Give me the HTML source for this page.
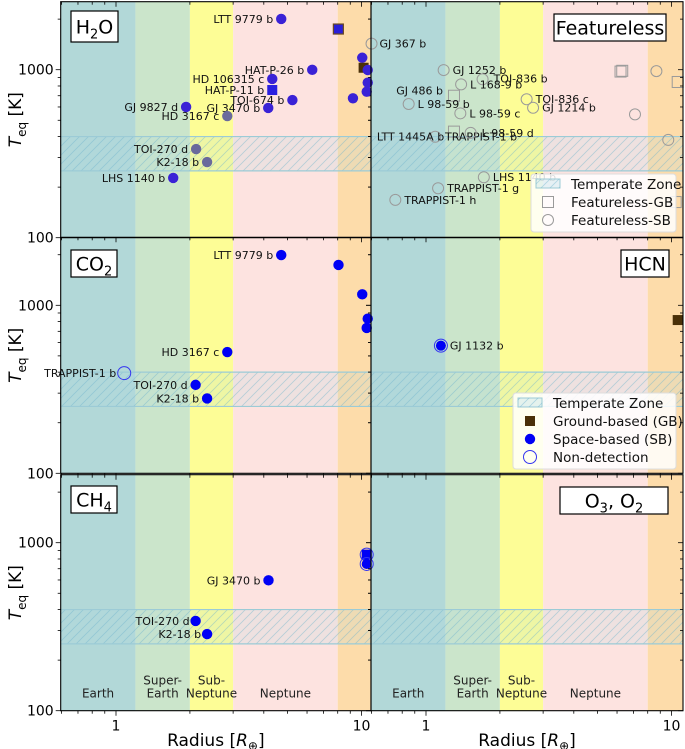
<!DOCTYPE html>
<html><head><meta charset="utf-8"><style>
html,body{margin:0;padding:0;background:#fff;}
svg{display:block;font-family:"DejaVu Sans","Liberation Sans",sans-serif;}
</style></head><body>
<svg id="chart" width="685" height="749" viewBox="0 0 685 749" xmlns="http://www.w3.org/2000/svg">
<defs>
<pattern id="hatch" patternUnits="userSpaceOnUse" width="9" height="9">
<path d="M-1,10 L10,-1 M-1,1 L1,-1 M8,10 L10,8" stroke="rgba(110,180,205,0.45)" stroke-width="0.8"/>
</pattern>
</defs>
<g id="root"></g>
</svg>
<script>
// ---- data ----
const zoneNames = ["Earth", "Super-\nEarth", "Sub-\nNeptune", "Neptune", ""];
const zoneBounds = [0.5, 1.2, 2, 3, 8, 20];
const zoneColors = ["#b2d8d8", "#cbe5cb", "#fdfd96", "#fde3e0", "#fddcaa"];
const temperateZone = [250, 400];
const xTicks = [1, 10];
const yTicks = [100, 1000];
const panelTitles = ["H2O", "Featureless", "CO2", "HCN", "CH4", "O3, O2"];

const h2oNames = ["LTT 9779 b","","HAT-P-26 b","HD 106315 c","HAT-P-11 b","TOI-674 b","GJ 3470 b","GJ 9827 d","HD 3167 c","TOI-270 d","K2-18 b","LHS 1140 b","","","","","",""];
const h2oR = [4.71,8.05,6.3,4.33,4.33,5.23,4.17,1.93,2.84,2.12,2.35,1.71,10.07,10.2,10.6,10.6,10.5,9.23];
const h2oT = [2004,1746,998,881,757,660,592,600,530,337,282,227,1178,1027,996,837,740,676];
const h2oType = ["sb","combo","sb","sb","sbsq","sb","sb","sb","tent","tent","tent","sb","sb","gb","sb","sb","sb","sb"];

const co2Names = ["LTT 9779 b","","","","","HD 3167 c","TRAPPIST-1 b","TOI-270 d","K2-18 b"];
const co2R = [4.71,8.06,10.07,10.6,10.5,2.84,1.08,2.11,2.35];
const co2T = [1990,1738,1162,832,733,527,395,336,279];
const co2Type = ["sb","sb","sb","sb","sb","sb","non","sb","sb"];

const hcnNames = ["GJ 1132 b",""];
const hcnR = [1.15,10.6];
const hcnT = [575,817];
const hcnType = ["ring","gb"];

const ch4Names = ["GJ 3470 b","","","TOI-270 d","K2-18 b"];
const ch4R = [4.18,10.5,10.5,2.11,2.35];
const ch4T = [597,849,747,342,286];
const ch4Type = ["sb","sqring","ring","sb","sb"];

const featNames = ["GJ 367 b","GJ 1252 b","TOI-836 b","L 168-9 b","GJ 486 b","L 98-59 b","TOI-836 c","GJ 1214 b","L 98-59 c","LTT 1445A b","TRAPPIST-1 b","L 98-59 d","LHS 1140 b","TRAPPIST-1 g","TRAPPIST-1 h","","","","","","",""];
const featR = [0.60,1.18,1.70,1.39,1.30,0.85,2.57,2.73,1.38,1.09,1.30,1.52,1.72,1.12,0.75,6.2,6.3,8.68,10.6,7.1,9.7,10.4];
const featT = [1430,995,877,818,700,625,667,594,550,399,428,421,229,197,168,975,985,981,845,542,382,163];
const featType = ["fsb","fsb","fsb","fsb","fgb","fsb","fsb","fsb","fsb","fsb","fgb","fsb","fsb","fsb","fsb","fgb","fgb","fsb","fgb","fsb","fsb","fgb"];
const featLabelDx = [8,9,11,9,-11,9,9,9,9,9,-9,11,9,9,9,0,0,0,0,0,0,0];
const featLabelDy = [0,0,-1,0,-5,0,0,0,0,0,5,0,0,0,0,0,0,0,0,0,0,0];
const featLabelAnchor = ["start","start","start","start","end","start","start","start","start","end","start","start","start","start","start","start","start","start","start","start","start","start"];

// ---- geometry ----
const colOrigin = [116, 426];
const colLeft = [60.7, 371];
const colRight = [371, 683];
const decX = 245.5;
const rowBottom = [237.7, 473.3, 710.7];
const panelH = 236;
const decY = 168;
function xScale(col, R){ return colOrigin[col] + decX*Math.log10(R); }
function yScale(row, T){ return rowBottom[row] - decY*(Math.log10(T)-2); }

const NS = "http://www.w3.org/2000/svg";
const root = document.getElementById("root");
function mk(tag, attrs, parent){
  const e = document.createElementNS(NS, tag);
  for (const k in attrs) e.setAttribute(k, attrs[k]);
  (parent||root).appendChild(e);
  return e;
}

function drawPanel(row, col, idx){
  const x0 = colLeft[col], x1 = colRight[col];
  const yb = rowBottom[row], yt = yb - panelH;
  const g = mk("g", {});
  
  
  for (let i=0;i<zoneColors.length;i++){
    const a = Math.max(x0, xScale(col, zoneBounds[i])), b = Math.min(x1, xScale(col, zoneBounds[i+1]));
    const r = mk("rect", {x:a, y:yt, width:Math.max(0,b-a), height:panelH, fill:zoneColors[i]}, g);
    
    
  }
  const tzTop = yScale(row, temperateZone[1]), tzBot = yScale(row, temperateZone[0]);
  const tz = mk("rect", {x:x0, y:tzTop, width:x1-x0, height:tzBot-tzTop, fill:"rgba(173,216,230,0.18)"}, g);
  
  
  mk("rect", {x:x0, y:tzTop, width:x1-x0, height:tzBot-tzTop, fill:"url(#hatch)"}, g);
  mk("line", {x1:x0, x2:x1, y1:tzTop, y2:tzTop, stroke:"#9ccbd6", "stroke-width":1.2}, g);
  mk("line", {x1:x0, x2:x1, y1:tzBot, y2:tzBot, stroke:"#9ccbd6", "stroke-width":1.2}, g);
  if (row === 2){
    for (let i=0;i<zoneNames.length;i++){
      if (!zoneNames[i]) continue;
      const cx = (Math.max(x0,xScale(col, zoneBounds[i])) + Math.min(x1,xScale(col, zoneBounds[i+1])))/2;
      const lines = zoneNames[i].split("\n");
      const t = mk("text", {x:cx, y: yb - 13 - (lines.length-1)*13, "text-anchor":"middle", "font-size":12, fill:"#222"}, g);
      
      
      lines.forEach((ln,k)=>{ const s = mk("tspan", {x:cx, dy: k?13:0}, t); s.textContent = ln; });
    }
  }
  for (let d=-1; d<=1; d++){
    for (let m=1; m<10; m++){
      const v = m*Math.pow(10,d);
      const x = xScale(col, v);
      if (x < x0-0.5 || x > x1+0.5) continue;
      const major = (m===1);
      mk("line", {x1:x, x2:x, y1:yb, y2:yb+(major?5:3), stroke:"#000", "stroke-width":0.8}, g);
      mk("line", {x1:x, x2:x, y1:yt, y2:yt+(major?5:3), stroke:"#000", "stroke-width":0.8}, g);
    }
  }
  for (let d=2; d<=3; d++){
    for (let m=1; m<10; m++){
      const v = m*Math.pow(10,d);
      const y = yScale(row, v);
      if (y < yt-0.5 || y > yb+0.5) continue;
      const major = (m===1);
      mk("line", {x1:x0, x2:x0-(major?5:3), y1:y, y2:y, stroke:"#000", "stroke-width":0.8}, g);
      mk("line", {x1:x1, x2:x1-(major?5:3), y1:y, y2:y, stroke:"#000", "stroke-width":0.8}, g);
    }
  }
  if (col === 0){
    yTicks.forEach(v=>{
      const t = mk("text", {x: x0-7, y: yScale(row, v)+5, "text-anchor":"end", "font-size":14, fill:"#000"});
      
      
      t.textContent = v;
    });
    const yl = mk("text", {x:0, y:0, "font-size":17, "text-anchor":"middle", transform:"translate(21,"+(yb-panelH/2)+") rotate(-90)"});
    
    
    const a = mk("tspan", {"font-style":"italic"}, yl); a.textContent = "T";
    const b = mk("tspan", {"font-size":12, dy:5}, yl); b.textContent = "eq";
    const c = mk("tspan", {dy:-5}, yl); c.textContent = " [K]";
  }
  if (row === 2){
    xTicks.forEach(v=>{
      const t = mk("text", {x: xScale(col, v), y: yb+20, "text-anchor":"middle", "font-size":14});
      
      
      t.textContent = v;
    });
    const xl = mk("text", {x:(x0+x1)/2, y:746, "text-anchor":"middle", "font-size":17});
    
    
    const a = mk("tspan", {}, xl); a.textContent = "Radius [";
    const b = mk("tspan", {"font-style":"italic"}, xl); b.textContent = "R";
    const c = mk("tspan", {"font-size":12, dy:4}, xl); c.textContent = "⊕";
    const d = mk("tspan", {dy:-4}, xl); d.textContent = "]";
  }
}

// parts: [text, isSub]
function titleBox(x, y, w, h, parts, name){
  const r = mk("rect", {x, y, width:w, height:h, fill:"#fff", stroke:"#000", "stroke-width":1.2});
  
  
  const t = mk("text", {x: x+w/2, y: y+h/2+7, "text-anchor":"middle", "font-size":19});
  
  
  let sub = false;
  parts.forEach(p=>{
    const attrs = {};
    if (p[1]) { attrs["font-size"] = 13; if (!sub) attrs.dy = 5; sub = true; }
    else { attrs["font-size"] = 19; if (sub) attrs.dy = -5; sub = false; }
    const s = mk("tspan", attrs, t);
    s.textContent = p[0];
  });
}

function marker(type, x, y, parent){
  let e;
  if (type==="sb") e = mk("circle", {cx:x, cy:y, r:5.2, fill:"#0000f5"}, parent);
  else if (type==="tent") e = mk("circle", {cx:x, cy:y, r:5.2, fill:"#6a6a9c"}, parent);
  else if (type==="non") e = mk("circle", {cx:x, cy:y, r:6.5, fill:"none", stroke:"#3535f0", "stroke-width":1}, parent);
  else if (type==="ring"){ mk("circle", {cx:x, cy:y, r:6.5, fill:"none", stroke:"#3535f0", "stroke-width":1}, parent); e = mk("circle", {cx:x, cy:y, r:5, fill:"#0000f5"}, parent); }
  else if (type==="sqring"){ mk("circle", {cx:x, cy:y, r:6.5, fill:"none", stroke:"#3535f0", "stroke-width":1}, parent); e = mk("rect", {x:x-5, y:y-5, width:10, height:10, fill:"#0000f5"}, parent); }
  else if (type==="gb") e = mk("rect", {x:x-5, y:y-5, width:10, height:10, fill:"#4a3008"}, parent);
  else if (type==="sbsq") e = mk("rect", {x:x-5, y:y-5, width:10, height:10, fill:"#1818e8"}, parent);
  else if (type==="combo") e = mk("rect", {x:x-5, y:y-5, width:10, height:10, fill:"#2a1ed8", stroke:"#6a4a20", "stroke-width":1.2}, parent);
  else if (type==="fsb") e = mk("circle", {cx:x, cy:y, r:5.5, fill:"none", stroke:"#9a9a9a", "stroke-width":1}, parent);
  else if (type==="fgb") e = mk("rect", {x:x-5.5, y:y-5.5, width:11, height:11, fill:"none", stroke:"#9a9a9a", "stroke-width":1}, parent);
  return e;
}

function drawSeries(row, col, names, Rs, Ts, types, purple, labelDx, labelDy, labelAnchor, fs){
  const g = mk("g", {});
  
  
  for (let i=0;i<Rs.length;i++){
    const x = xScale(col, Rs[i]), y = yScale(row, Ts[i]);
    const e = marker(types[i], x, y, g);
    
    
    if (purple && (types[i]==="sb")) e.setAttribute("fill", "#3a22d6");
    if (purple && (types[i]==="sbsq")) e.setAttribute("fill", "#2a20e0");
    if (names[i]){
      const dx = labelDx ? labelDx[i] : -8;
      const dy = labelDy ? labelDy[i] : 0;
      const an = labelAnchor ? labelAnchor[i] : "end";
      const t = mk("text", {x:x+dx, y:y+dy+4, "text-anchor":an, "font-size":fs||11, fill:"#111"}, g);
      
      
      t.textContent = names[i];
    }
  }
}

drawPanel(0,0,0); drawPanel(0,1,1);
drawPanel(1,0,2); drawPanel(1,1,3);
drawPanel(2,0,4); drawPanel(2,1,5);

drawSeries(0,0,h2oNames,h2oR,h2oT,h2oType,true);
drawSeries(0,1,featNames,featR,featT,featType,false,featLabelDx,featLabelDy,featLabelAnchor);
drawSeries(1,0,co2Names,co2R,co2T,co2Type,false);
drawSeries(1,1,hcnNames,hcnR,hcnT,hcnType,false,[9,0],[0,0],["start","start"]);
drawSeries(2,0,ch4Names,ch4R,ch4T,ch4Type,false,[-8,-8,-8,-6,-6],null,null,11);

[[0,0],[0,1],[1,0],[1,1],[2,0],[2,1]].forEach(p=>{
  const x0 = colLeft[p[1]], x1 = colRight[p[1]], yb = rowBottom[p[0]];
  const f = mk("rect", {x:x0, y:yb-panelH, width:x1-x0, height:panelH, fill:"none", stroke:"#000", "stroke-width":1.1});
  
  
});

titleBox(71, 11, 47, 31, [["H",0],["2",1],["O",0]], "title-h2o");
titleBox(554, 14, 112, 27, [["Featureless",0]], "title-featureless");
titleBox(71, 250, 46, 27, [["CO",0],["2",1]], "title-co2");
titleBox(621, 250, 48, 27, [["HCN",0]], "title-hcn");
titleBox(71, 486, 46, 27, [["CH",0],["4",1]], "title-ch4");
titleBox(560, 487, 108, 27, [["O",0],["3",1],[", O",0],["2",1]], "title-o3-o2");

function legend(x, y, w, h, entries, name){
  const g = mk("g", {});
  
  
  mk("rect", {x, y, width:w, height:h, rx:3, fill:"rgba(255,255,255,0.85)", stroke:"#ddd", "stroke-width":1}, g);
  entries.forEach((en,i)=>{
    const cy = y + 10 + i*18;
    const mx = x + 17;
    if (en[0]==="patch"){
      mk("rect", {x:mx-12, y:cy-5, width:24, height:9, fill:"rgba(173,216,230,0.3)", stroke:"#9ccbd6"}, g);
      mk("rect", {x:mx-12, y:cy-5, width:24, height:9, fill:"url(#hatch)"}, g);
    } else marker(en[0], mx, cy, g);
    const t = mk("text", {x: x+40, y: cy+5, "font-size":13.5, fill:"#111"}, g);
    
    
    t.textContent = en[1];
  });
}
legend(531, 174, 145, 58, [["patch","Temperate Zone"],["fgb","Featureless-GB"],["fsb","Featureless-SB"]], "legend-featureless");
legend(513, 393, 163, 76, [["patch","Temperate Zone"],["gb","Ground-based (GB)"],["sb","Space-based (SB)"],["non","Non-detection"]], "legend-hcn");
</script>
</body></html>
